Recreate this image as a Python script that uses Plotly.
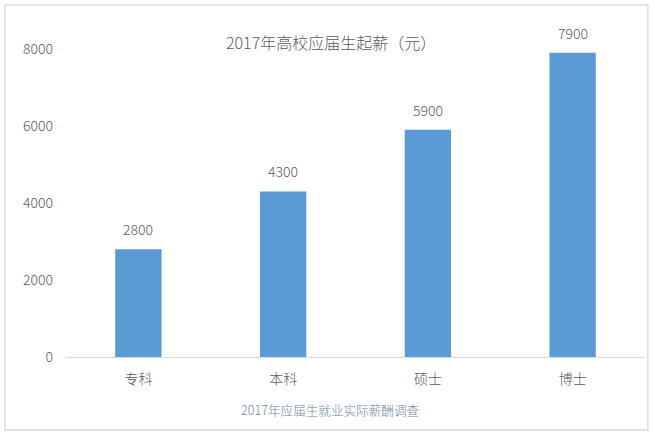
import plotly.graph_objects as go

categories = ["专科", "本科", "硕士", "博士"]
salaries = [2800, 4300, 5900, 7900]
y_ticks = [0, 2000, 4000, 6000, 8000]
title_text = "2017年高校应届生起薪（元）"
source_text = "2017年应届生就业实际薪酬调查"

FONT = "Noto Sans CJK SC, Noto Sans, sans-serif"
TXT = "#595959"
W = 300

fig = go.Figure()
fig.add_trace(go.Bar(
    x=categories, y=salaries,
    marker=dict(color="#5b9bd5", line=dict(width=0)),
    width=0.32,
    hoverinfo="skip",
))

annotations = []
for c, v in zip(categories, salaries):
    annotations.append(dict(x=c, y=v, xref="x", yref="y", text=str(v),
                            showarrow=False, yanchor="bottom", yshift=8,
                            font=dict(family=FONT, size=14, color=TXT, weight=W)))
annotations.append(dict(x=0.458, y=1.023, xref="paper", yref="paper", text=title_text,
                        showarrow=False, xanchor="center", yanchor="middle",
                        font=dict(family=FONT, size=16, color=TXT, weight=W)))
annotations.append(dict(x=0.456, y=-0.172, xref="paper", yref="paper", text=source_text,
                        showarrow=False, xanchor="center", yanchor="middle",
                        font=dict(family=FONT, size=12.6, color="#6b8698", weight=W)))

fig.update_layout(
    width=655, height=434,
    margin=dict(l=66, r=10, t=49, b=77),
    paper_bgcolor="white", plot_bgcolor="white",
    showlegend=False,
    annotations=annotations,
    shapes=[dict(type="rect", xref="paper", yref="paper",
                 x0=-0.1054, x1=1.005, y0=-0.237, y1=1.143,
                 line=dict(color="#dcdcdc", width=1.5), layer="below")],
    xaxis=dict(showgrid=False, showline=True, linecolor="#d9d9d9", linewidth=1,
               ticks="", tickfont=dict(family=FONT, size=14, color=TXT, weight=W),
               ticklabelstandoff=9, fixedrange=True),
    yaxis=dict(range=[0, 8000], tickvals=y_ticks, showgrid=False, zeroline=False,
               showline=False, ticks="", ticklabelstandoff=12,
               tickfont=dict(family=FONT, size=14, color=TXT, weight=W), fixedrange=True),
)

fig.write_html("out.html")
